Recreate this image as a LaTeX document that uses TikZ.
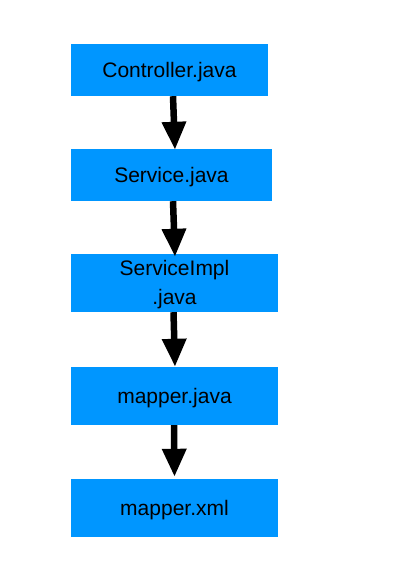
\documentclass[tikz,border=0pt]{standalone}
\usepackage{fontspec}
\setmainfont{Liberation Sans}
\usetikzlibrary{arrows.meta}
\definecolor{boxblue}{RGB}{0,150,255}
\begin{document}
\begin{tikzpicture}[x=1pt,y=-1pt,
  filebox/.style={fill=boxblue, draw=none, inner sep=0pt, text=black,
    font=\fontsize{21}{29}\selectfont, text height=15pt, text depth=0pt},
  flow/.style={line width=6.5pt, -{Triangle[length=28pt,width=23pt]}, black}]
\useasboundingbox (0,0) rectangle (400,568);
\node[filebox, minimum width=197pt, minimum height=52pt] (c1) at (169.5,70) {Controller.java};
\node[filebox, minimum width=201pt, minimum height=52pt] (c2) at (171.5,175) {Service.java};
\node[filebox, minimum width=207pt, minimum height=58pt, align=center, text height=43.5pt] (c3) at (174.5,283) {ServiceImpl\\.java};
\node[filebox, minimum width=207pt, minimum height=58pt] (c4) at (174.5,396) {mapper.java};
\node[filebox, minimum width=207pt, minimum height=58pt] (c5) at (174.5,508) {mapper.xml};
\draw[flow] ([xshift=3.5pt]c1.south) -- ([xshift=3.5pt,yshift=-1pt]c2.north);
\draw[flow] ([xshift=1.5pt]c2.south) -- ([xshift=0.5pt,yshift=-3pt]c3.north);
\draw[flow] ([xshift=-1pt]c3.south) -- ([xshift=0.5pt]c4.north);
\draw[flow] ([xshift=-0.5pt]c4.south) -- ([yshift=2pt]c5.north);
\end{tikzpicture}
\end{document}
